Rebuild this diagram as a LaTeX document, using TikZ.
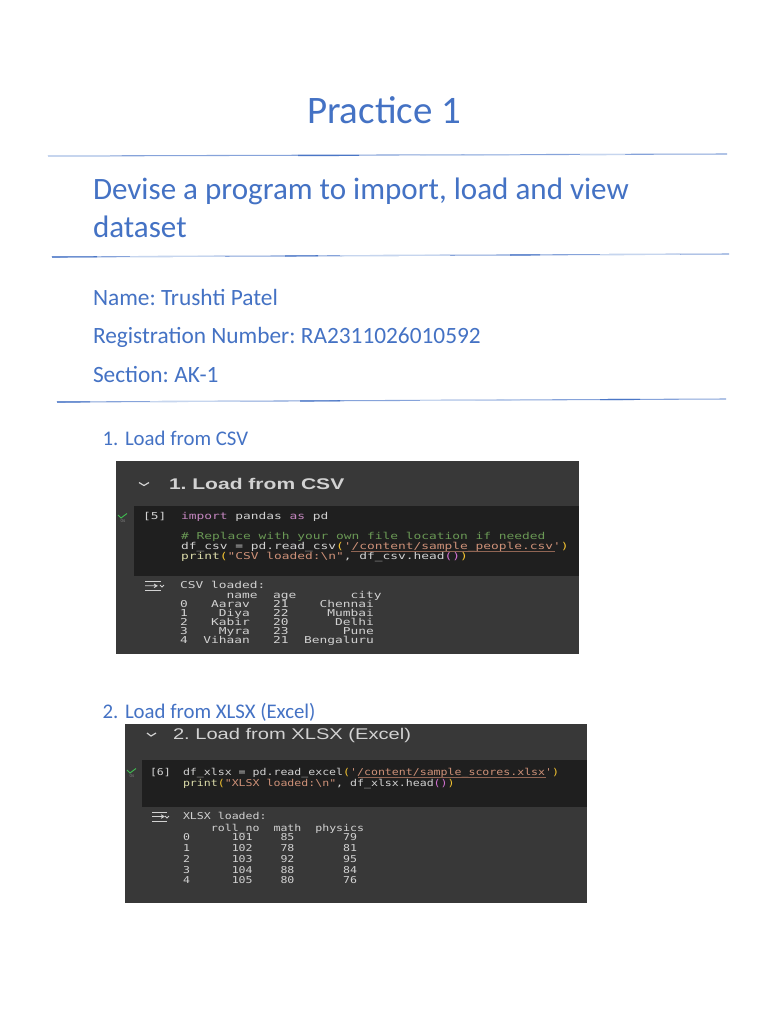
\documentclass[tikz,border=0pt]{standalone}
\usepackage{fontspec}
\usepackage{graphicx}
\setmainfont{Carlito}
\setsansfont{Liberation Sans}
\setmonofont{DejaVu Sans Mono}
\frenchspacing
\definecolor{docblue}{HTML}{4472C4}
\definecolor{ruleblue}{HTML}{86A3DA}
\definecolor{rulelight}{HTML}{C6D5EE}
\definecolor{ruledark}{HTML}{4A76C6}
\definecolor{shot}{HTML}{383838}
\definecolor{cellbg}{HTML}{1F1F1F}
\definecolor{codegrey}{HTML}{D2D2D2}
\definecolor{kw}{HTML}{C586C0}
\definecolor{cmt}{HTML}{6A9955}
\definecolor{str}{HTML}{CE9178}
\definecolor{fnc}{HTML}{DCDCAA}
\definecolor{brk}{HTML}{F2C230}
\definecolor{brp}{HTML}{D070D0}
\definecolor{okgreen}{HTML}{3FB950}
\newcommand{\monoA}[1]{\scalebox{1.36}[1]{\ttfamily\fontsize{7.1pt}{8pt}\selectfont #1}}
\newcommand{\monoB}[1]{\scalebox{1.222}[1]{\ttfamily\fontsize{7.1pt}{8pt}\selectfont #1}}
\newcommand{\K}[1]{\textcolor{kw}{#1}}
\newcommand{\Cm}[1]{\textcolor{cmt}{#1}}
\newcommand{\Sg}[1]{\textcolor{str}{#1}}
\newcommand{\Fn}[1]{\textcolor{fnc}{#1}}
\newcommand{\Bk}[1]{\textcolor{brk}{#1}}
\newcommand{\Bp}[1]{\textcolor{brp}{#1}}
\tikzset{
  txt/.style={anchor=base west,inner sep=0pt,outer sep=0pt},
  bodytxt/.style={txt,text=docblue,font=\fontsize{17.5pt}{20pt}\selectfont},
  listtxt/.style={txt,text=docblue,font=\fontsize{15.6pt}{18pt}\selectfont},
  headtxt/.style={txt,text=docblue,font=\fontsize{23.3pt}{27pt}\selectfont},
  codetxt/.style={txt,text=codegrey},
  shothead/.style={txt,text=codegrey,font=\sffamily\fontsize{11.6pt}{13pt}\selectfont},
  baserule/.style={draw=ruleblue,line width=0.8pt},
  darkseg/.style={draw=ruledark,line width=0.85pt},
  lightseg/.style={draw=rulelight,line width=0.85pt},
  chev/.style={draw=codegrey,line width=0.9pt},
  check/.style={draw=okgreen,line width=0.7pt},
  tinytxt/.style={anchor=center,inner sep=0pt,text=gray,font=\sffamily\fontsize{3.4pt}{4pt}\selectfont},
  oline/.style={draw=codegrey,line width=0.65pt},
  pathline/.style={draw=str!70!black,line width=0.5pt},
}
\begin{document}
\begin{tikzpicture}[x=0.75pt,y=-0.75pt]
\useasboundingbox (0,0) rectangle (768,1024);
\fill[white] (0,0) rectangle (768,1024);

\node[txt,text=docblue,font=\fontsize{29.2pt}{33pt}\selectfont] (title) at (307,123.5) {Practice 1};

% rules
\draw[baserule] (48,156) -- (727,154);
\draw[lightseg] (48,156) -- (110,156);
\draw[darkseg] (298,155.5) -- (359,155.4);
\draw[lightseg] (420,155.2) -- (520,154.9);
\draw[lightseg] (580,154.8) -- (625,154.6);
\draw[baserule] (52,257) -- (729,254);
\draw[darkseg] (52,257) -- (97,256.8);
\draw[lightseg] (130,256.6) -- (225,256.2);
\draw[darkseg] (285,256) -- (318,255.8);
\draw[lightseg] (340,255.7) -- (450,255.2);
\draw[darkseg] (510,255) -- (540,254.9);
\draw[lightseg] (600,254.6) -- (680,254.3);
\draw[baserule] (57,402) -- (726,399);
\draw[darkseg] (57,402) -- (90,401.9);
\draw[lightseg] (150,401.6) -- (240,401.2);
\draw[darkseg] (300,401) -- (340,400.8);
\draw[lightseg] (420,400.4) -- (520,400);
\draw[darkseg] (600,399.6) -- (640,399.4);

\node[headtxt] (h1) at (93,199.5) {Devise a program to import, load and view};
\node[headtxt] (h2) at (93,237.5) {dataset};
\node[bodytxt] (name) at (93,305) {Name: Trushti Patel};
\node[bodytxt] (reg) at (93,343) {Registration Number: RA2311026010592};
\node[bodytxt] (sec) at (93,382) {Section: AK-1};
\node[listtxt] (n1) at (102.5,445) {1.};
\node[listtxt] (l1) at (125,445) {Load from CSV};
\node[listtxt] (n2) at (102.5,718) {2.};
\node[listtxt] (l2) at (125,718) {Load from XLSX (Excel)};

% ===== screenshot 1
\fill[shot] (116,461) rectangle (579,654);
\fill[cellbg] (134,506) rectangle (579,576);
\draw[chev] (139,482.5) -- (144,485.5) -- (149,482.5);
\node[shothead] (s1h) at (169,489) {\scalebox{1.36}[1]{\bfseries 1. Load from CSV}};
\draw[check] (118,515) -- (121,518) -- (127,513.5);
\node[tinytxt] (s1t) at (123,521) {0s};
\node[codetxt] (c5) at (143,519) {\monoA{[5]}};
\node[codetxt] (c1) at (181,519) {\monoA{\K{import} pandas \K{as} pd}};
\node[codetxt] (c2) at (181,539) {\monoA{\Cm{\# Replace with your own file location if needed}}};
\node[codetxt] (c3) at (181,549) {\monoA{df\_csv = pd.read\_csv\Bk{(}\Sg{'/content/sample\_people.csv'}\Bk{)}}};
\node[codetxt] (c4) at (181,559) {\monoA{\Fn{print}\Bk{(}\Sg{"CSV loaded:\textbackslash n"}, df\_csv.head\Bp{()}\Bk{)}}};
\draw[pathline] (351,551) -- (555,551);
\draw[oline] (145,581) -- (161,581) (145,590.5) -- (161,590.5);
\draw[oline] (145,585.8) -- (157,585.8) (154,584) -- (157,585.8) -- (154,587.6);
\draw[oline] (160,585) -- (162,587) -- (164,585);
\node[codetxt] (o0) at (180,588) {\monoA{CSV loaded:}};
\node[codetxt] (o1) at (180,598) {\monoA{~~~~~~name~~age~~~~~~~city}};
\node[codetxt] (o2) at (180,607) {\monoA{0~~~Aarav~~~21~~~~Chennai}};
\node[codetxt] (o3) at (180,616) {\monoA{1~~~~Diya~~~22~~~~~Mumbai}};
\node[codetxt] (o4) at (180,625) {\monoA{2~~~Kabir~~~20~~~~~~Delhi}};
\node[codetxt] (o5) at (180,634) {\monoA{3~~~~Myra~~~23~~~~~~~Pune}};
\node[codetxt] (o6) at (180,643) {\monoA{4~~Vihaan~~~21~~Bengaluru}};

% ===== screenshot 2
\fill[shot] (125,724) rectangle (587,903);
\fill[cellbg] (142,760) rectangle (587,807);
\draw[chev] (147,733) -- (151,736) -- (156,733);
\node[shothead] (s2h) at (173,739.5) {\scalebox{1.3}[1]{2. Load from XLSX (Excel)}};
\draw[check] (127,770) -- (130,773) -- (136,768.5);
\node[tinytxt] (s2t) at (132,776) {0s};
\node[codetxt] (d6) at (150,775) {\monoB{[6]}};
\node[codetxt] (d1) at (183,775) {\monoB{df\_xlsx = pd.read\_excel\Bk{(}\Sg{'/content/sample\_scores.xlsx'}\Bk{)}}};
\node[codetxt] (d2) at (183,786) {\monoB{\Fn{print}\Bk{(}\Sg{"XLSX loaded:\textbackslash n"}, df\_xlsx.head\Bp{()}\Bk{)}}};
\draw[pathline] (358,777) -- (546,777);
\draw[oline] (152,812) -- (167,812) (152,821) -- (167,821);
\draw[oline] (152,816.5) -- (164,816.5) (161,814.7) -- (164,816.5) -- (161,818.3);
\draw[oline] (165,816) -- (167,818) -- (169,816);
\node[codetxt] (p0) at (183,819) {\monoB{XLSX loaded:}};
\node[codetxt] (p1) at (183,831) {\monoB{~~~~roll\_no~~math~~physics}};
\node[codetxt] (p2) at (183,840) {\monoB{0~~~~~~101~~~~85~~~~~~~79}};
\node[codetxt] (p3) at (183,851) {\monoB{1~~~~~~102~~~~78~~~~~~~81}};
\node[codetxt] (p4) at (183,862) {\monoB{2~~~~~~103~~~~92~~~~~~~95}};
\node[codetxt] (p5) at (183,873) {\monoB{3~~~~~~104~~~~88~~~~~~~84}};
\node[codetxt] (p6) at (183,883) {\monoB{4~~~~~~105~~~~80~~~~~~~76}};
\end{tikzpicture}
\end{document}
